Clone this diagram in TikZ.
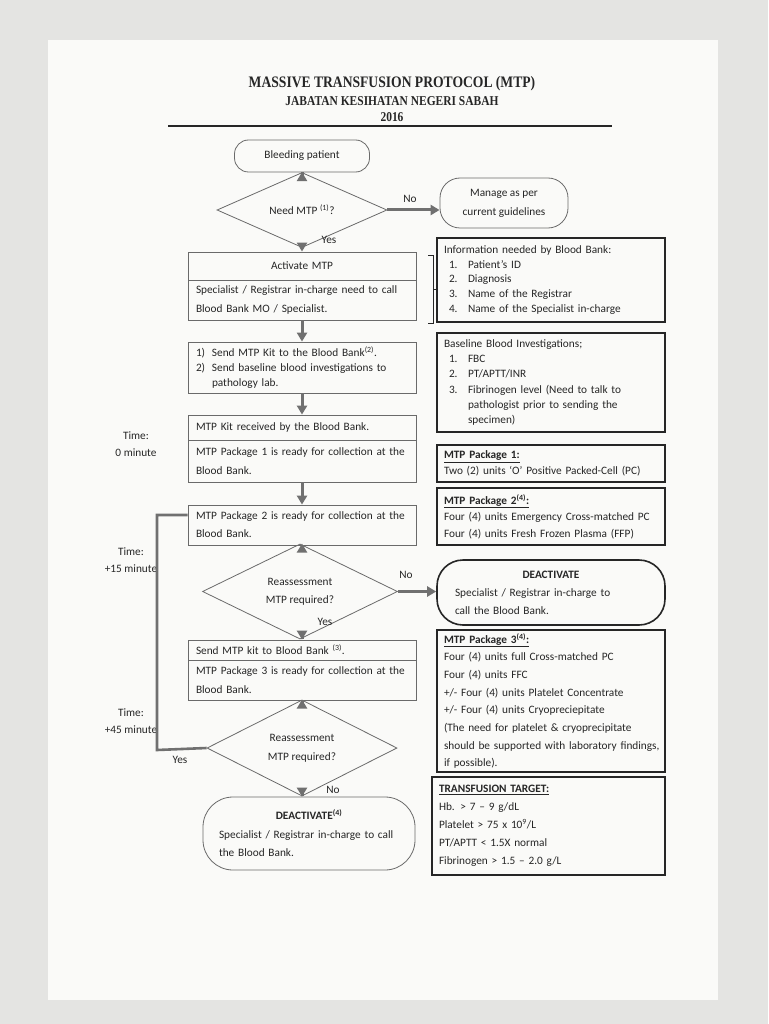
\documentclass[tikz,border=0pt]{standalone}
\usepackage{fontspec}
\setmainfont{Carlito}
\newfontfamily\titlefont[FakeStretch=0.85]{Liberation Serif}
\usetikzlibrary{arrows.meta, positioning, shapes.geometric}
\definecolor{scangray}{HTML}{E4E4E2}
\definecolor{paper}{HTML}{FAFAF8}
\definecolor{ink}{HTML}{262626}
\definecolor{thinline}{HTML}{6A6A6A}
\definecolor{arrowgray}{HTML}{707070}
\newcommand{\itm}[1]{\hspace*{5pt}\makebox[19pt][l]{#1}}
\newcommand{\jline}[1]{\makebox[\linewidth][s]{#1}}

\begin{document}
\begin{tikzpicture}[x=1pt, y=-1pt, >={Triangle[length=9pt, width=10pt]},
  every node/.style={text=ink, font=\fontsize{11.3}{15}\selectfont},
  stepbox/.style={draw=thinline, line width=0.8pt, minimum width=228pt, inner xsep=8pt, inner ysep=0pt, text width=212pt, align=left},
  notebox/.style={draw=ink, line width=1.6pt, minimum width=228pt, inner xsep=7pt, inner ysep=0pt, text width=214pt, align=left},
  endbox/.style={draw=thinline, line width=0.8pt, align=center, inner sep=0pt},
  decision/.style={diamond, draw=thinline, line width=0.8pt, inner sep=0pt, align=center},
  flow/.style={->, draw=arrowgray, line width=3pt},
  loopline/.style={draw=arrowgray, line width=2.6pt}]

% Background (scan + paper)
\fill[scangray] (0,0) rectangle (768,1024);
\fill[paper] (48,40) rectangle (718,1000);
\useasboundingbox (0,0) rectangle (768,1024);

% Title
\node[font=\titlefont\bfseries\fontsize{16}{18}\selectfont] (title) at (392,84) {MASSIVE TRANSFUSION PROTOCOL (MTP)};
\node[font=\titlefont\bfseries\fontsize{13.5}{16}\selectfont] (dept) at (392,101) {JABATAN KESIHATAN NEGERI SABAH};
\node[font=\titlefont\bfseries\fontsize{13.5}{16}\selectfont] (year) at (392,117) {2016};
\draw[ink, line width=1.2pt] (168,126) -- (612,126);

% Left column: main flow
\node[endbox, rounded corners=14pt, minimum width=135pt, minimum height=32pt] (bleed) at (302,156) {Bleeding patient};
\node[decision, minimum width=170pt, minimum height=40pt] (needmtp) at (302,210) {Need MTP \textsuperscript{(1)}?};
\node[endbox, rounded corners=20pt, minimum width=128pt, minimum height=50pt, font=\fontsize{11.3}{19}\selectfont] (manage) at (504,203) {Manage as per\\ current guidelines};

\node[stepbox, minimum height=28pt, align=center] (activate) at (302,266) {Activate MTP};
\node[stepbox, minimum height=40pt, font=\fontsize{11.3}{19}\selectfont] (callbb) at (302,300) {\jline{Specialist / Registrar in-charge need to call}\\ Blood Bank MO / Specialist.};
\node[stepbox, minimum height=51pt] (sendkit) at (302,367.5) {\makebox[16pt][l]{1)}Send MTP Kit to the Blood Bank\textsuperscript{(2)}.\\ \makebox[16pt][l]{2)}\makebox[\dimexpr\linewidth-16pt\relax][s]{Send baseline blood investigations to}\\ \hspace*{16pt}pathology lab.};
\node[stepbox, minimum height=25pt] (kitrecv) at (302,427.5) {MTP Kit received by the Blood Bank.};
\node[stepbox, minimum height=42pt, font=\fontsize{11.3}{19}\selectfont] (pack1) at (302,461) {MTP Package 1 is ready for collection at the\\ Blood Bank.};
\node[stepbox, minimum height=40pt, font=\fontsize{11.3}{18}\selectfont] (pack2) at (302,525) {MTP Package 2 is ready for collection at the\\ Blood Bank.};
\node[decision, minimum width=195pt, minimum height=57pt, font=\fontsize{11.3}{18}\selectfont] (reass1) at (300,591.5) {Reassessment\\ MTP required?};
\node[stepbox, minimum height=20pt] (sendkit3) at (302,650) {Send MTP kit to Blood Bank \textsuperscript{(3)}.};
\node[stepbox, minimum height=40pt, font=\fontsize{11.3}{19}\selectfont] (pack3) at (302,680) {MTP Package 3 is ready for collection at the\\ Blood Bank.};
\node[decision, minimum width=190pt, minimum height=60pt, font=\fontsize{11.3}{19}\selectfont] (reass2) at (302,748) {Reassessment\\ MTP required?};
\node[endbox, rounded corners=30pt, minimum width=212pt, minimum height=73pt, text width=180pt, inner xsep=16pt, align=left, font=\fontsize{11.3}{18.5}\selectfont] (stop2) at (309,833.5) {\makebox[\linewidth]{\textbf{DEACTIVATE\textsuperscript{(4)}}}\\ Specialist / Registrar in-charge to call\\ the Blood Bank.};

% Time marks
\node[align=center, font=\fontsize{11.3}{17}\selectfont] (t0) at (136,444.5) {Time:\\ 0 minute};
\node[align=center, font=\fontsize{11.3}{17}\selectfont] (t15) at (131,560.5) {Time:\\ +15 minute};
\node[align=center, font=\fontsize{11.3}{17}\selectfont] (t45) at (131,721.5) {Time:\\ +45 minute};

% Right column: notes
\node[notebox, minimum height=84pt, font=\fontsize{11.3}{14.8}\selectfont] (info) at (551,280) {Information needed by Blood Bank:\\ \itm{1.}Patient’s ID\\ \itm{2.}Diagnosis\\ \itm{3.}Name of the Registrar\\ \itm{4.}Name of the Specialist in-charge};
\node[notebox, minimum height=99pt, font=\fontsize{11.3}{15.2}\selectfont] (baseline) at (551,382.5) {Baseline Blood Investigations;\\ \itm{1.}FBC\\ \itm{2.}PT/APTT/INR\\ \itm{3.}Fibrinogen level (Need to talk to\\ \itm{}pathologist prior to sending the\\ \itm{}specimen)};
\node[notebox, minimum height=37pt, font=\fontsize{11.3}{16}\selectfont] (pk1info) at (551,463.5) {\underline{\textbf{MTP Package 1:}}\\ Two (2) units ‘O’ Positive Packed-Cell (PC)};
\node[notebox, minimum height=57pt, font=\fontsize{11.3}{16.5}\selectfont] (pk2info) at (551,516.5) {\underline{\textbf{MTP Package 2\textsuperscript{(4)}:}}\\ Four (4) units Emergency Cross-matched PC\\ Four (4) units Fresh Frozen Plasma (FFP)};
\node[notebox, rounded corners=26pt, minimum height=65pt, text width=192pt, inner xsep=18pt, font=\fontsize{11.3}{18}\selectfont] (stop1) at (551,592.5) {\makebox[\linewidth]{\textbf{DEACTIVATE}}\\ \makebox[174pt][s]{Specialist / Registrar in-charge to}\\ call the Blood Bank.};
\node[notebox, minimum height=142pt, font=\fontsize{11.3}{17.7}\selectfont] (pk3info) at (551,701) {\underline{\textbf{MTP Package 3\textsuperscript{(4)}:}}\\ Four (4) units full Cross-matched PC\\ Four (4) units FFC\\ +/- Four (4) units Platelet Concentrate\\ +/- Four (4) units Cryopreciepitate\\ \jline{(The need for platelet \& cryoprecipitate}\\ \jline{should be supported with laboratory findings,}\\ if possible).};
\node[notebox, minimum width=233pt, text width=219pt, minimum height=98pt, font=\fontsize{11.3}{18}\selectfont] (target) at (548.5,826) {\underline{\textbf{TRANSFUSION TARGET:}}\\ Hb. > 7 – 9 g/dL\\ Platelet > 75 x 10\textsuperscript{9}/L\\ PT/APTT < 1.5X normal\\ Fibrinogen > 1.5 – 2.0 g/L};

% Bracket linking activation to info box
\coordinate (brkmid) at (433,289);
\draw[ink, line width=1pt] (428,255) -- (433,255) -- (433,323) -- (428,323);
\draw[ink, line width=1pt] (brkmid) -- (brkmid -| info.west);

% Connectors
\draw[flow] (bleed) -- (needmtp);
\draw[flow] (needmtp.east) -- (needmtp.east -| manage.west);
\draw[flow] (needmtp) -- (activate);
\draw[flow] (callbb) -- (sendkit);
\draw[flow] (sendkit) -- (kitrecv);
\draw[flow] (pack1) -- (pack2);
\draw[flow] (pack2.south) -- (pack2.south |- reass1.north);
\draw[flow] (reass1.east) -- (reass1.east -| stop1.west);
\draw[flow] (reass1.south -| sendkit3.north) -- (sendkit3);
\draw[flow] (pack3) -- (reass2);
\draw[flow] (reass2.south) -- (reass2.south |- stop2.north);
\coordinate (loopcorner) at (157,750);
\draw[loopline] (reass2.west) -- (loopcorner) |- ([yshift=10pt]pack2.west);

% Branch labels
\node (no1) at (410,199) {No};
\node (yes1) at (329,240) {Yes};
\node (no2) at (406,575) {No};
\node (yes2) at (325,622) {Yes};
\node (yes3) at (180,760) {Yes};
\node (no3) at (333,790) {No};

\end{tikzpicture}
\end{document}
